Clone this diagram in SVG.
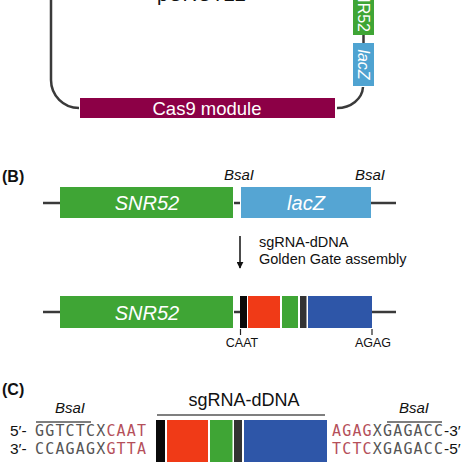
<svg xmlns="http://www.w3.org/2000/svg" width="474" height="474" viewBox="0 0 474 474">
<style>
.ln{stroke:#3a3a3a;stroke-width:2.5;fill:none}
.sans{font-family:"Liberation Sans",Arial,sans-serif}
.wt{fill:#fff}
.it{font-style:italic}
.seq{font-family:"DejaVu Sans Mono","Liberation Mono",monospace;font-size:15px}
.gr{fill:#555}
.rd{fill:#b5505a}
.bk{fill:#111}
</style>
<defs>
<marker id="ah" viewBox="0 0 10 10" refX="9" refY="5" markerWidth="7" markerHeight="7" orient="auto" markerUnits="userSpaceOnUse">
<path d="M0,0 L10,5 L0,10 z" fill="#111"/>
</marker>
</defs>
<rect width="474" height="474" fill="#fff"/>

<!-- (A) plasmid -->
<g id="connectors">
<path class="ln" d="M51,0 V80 A28,28 0 0 0 79,108"/>
<path class="ln" d="M337,108 A26,22 0 0 0 363,87"/>
<line class="ln" x1="363.5" y1="35" x2="363.5" y2="43"/>
<line class="ln" x1="43" y1="203" x2="60" y2="203"/>
<line class="ln" x1="234" y1="203" x2="240" y2="203"/>
<line class="ln" x1="371" y1="203" x2="396" y2="203"/>
<line x1="240" y1="236" x2="240" y2="268" stroke="#111" stroke-width="1.5" marker-end="url(#ah)"/>
<line class="ln" x1="43" y1="312" x2="60" y2="312"/>
<line class="ln" x1="234" y1="312" x2="240" y2="312"/>
<line class="ln" x1="372" y1="312" x2="396" y2="312"/>
<line x1="240.5" y1="329" x2="240.5" y2="335" stroke="#222" stroke-width="1.2"/>
<line x1="372" y1="329" x2="372" y2="335" stroke="#222" stroke-width="1.2"/>
<line x1="36" y1="422" x2="91" y2="422" stroke="#555" stroke-width="1.5"/>
<line x1="157" y1="415" x2="325" y2="415" stroke="#555" stroke-width="1.5"/>
<line x1="387" y1="422" x2="442" y2="422" stroke="#555" stroke-width="1.5"/>
</g>

<g id="title-a">
<text x="157" y="1" class="sans" font-size="20" fill="#111">pCRCT22</text>
</g>

<g id="a-snr52">
<rect x="353" y="-5" width="21" height="40" fill="#3fa535"/>
<text class="sans wt" font-size="16" transform="translate(357.5,32) rotate(90)" text-anchor="end">SNR52</text>
</g>
<g id="a-lacz">
<rect x="353" y="43" width="21" height="43" fill="#4fa3d1"/>
<text class="sans wt it" font-size="16" transform="translate(357.5,64.5) rotate(90)" text-anchor="middle">lacZ</text>
</g>
<g id="a-cas9">
<rect x="80" y="98" width="255" height="20" fill="#8c0046"/>
<text x="207" y="114.5" class="sans wt" font-size="18.5" text-anchor="middle">Cas9 module</text>
</g>

<!-- (B) -->
<g id="label-b"><text x="2" y="182" class="sans" font-size="16" font-weight="bold" fill="#111">(B)</text></g>
<g id="b-bsai1"><text x="224" y="180" class="sans it" font-size="15" fill="#111">BsaI</text></g>
<g id="b-bsai2"><text x="355" y="180" class="sans it" font-size="15" fill="#111">BsaI</text></g>
<g id="b-snr52">
<rect x="60" y="187" width="173" height="31" fill="#3fa535"/>
<text x="147" y="210" class="sans wt it" font-size="20" text-anchor="middle">SNR52</text>
</g>
<g id="b-lacz">
<rect x="241" y="187" width="130" height="31" fill="#55a5d3"/>
<text x="306" y="210" class="sans wt it" font-size="20" text-anchor="middle">lacZ</text>
</g>
<g id="b-arrow-label">
<text x="259" y="247" class="sans" font-size="14.5" fill="#111">sgRNA-dDNA</text>
<text x="259" y="264" class="sans" font-size="14.5" fill="#111">Golden Gate assembly</text>
</g>

<g id="b2-snr52">
<rect x="60" y="296" width="173" height="32" fill="#3fa535"/>
<text x="147" y="320" class="sans wt it" font-size="20" text-anchor="middle">SNR52</text>
</g>
<g id="b2-insert">
<rect x="240" y="296" width="7" height="32" fill="#0a0a0a"/>
<rect x="248" y="296" width="32" height="32" fill="#f03a17"/>
<rect x="282" y="296" width="16" height="32" fill="#3fa535"/>
<rect x="300" y="296" width="6.5" height="32" fill="#333"/>
<rect x="308" y="296" width="64" height="32" fill="#2e56a8"/>
</g>
<g id="b2-caat"><text x="242" y="347" class="sans" font-size="12.5" text-anchor="middle" fill="#111">CAAT</text></g>
<g id="b2-agag"><text x="373" y="347" class="sans" font-size="12.5" text-anchor="middle" fill="#111">AGAG</text></g>

<!-- (C) -->
<g id="label-c"><text x="2" y="395" class="sans" font-size="16" font-weight="bold" fill="#111">(C)</text></g>
<g id="c-bsai-left"><text x="55" y="413" class="sans it" font-size="15" fill="#111">BsaI</text></g>
<g id="c-bsai-right"><text x="399" y="413" class="sans it" font-size="15" fill="#111">BsaI</text></g>
<g id="c-title"><text x="244" y="406" class="sans" font-size="18" text-anchor="middle" fill="#111">sgRNA-dDNA</text></g>

<g id="c-left-seq">
<text x="10" y="436" class="sans bk" font-size="15.5">5′-</text>
<text class="seq gr" y="436" x="35 45.2 55.4 65.6 75.8 86 96.2">GGTCTCX</text>
<text class="seq rd" y="436" x="106.4 116.6 126.8 137">CAAT</text>
<text x="10" y="454" class="sans bk" font-size="15.5">3′-</text>
<text class="seq gr" y="454" x="35 45.2 55.4 65.6 75.8 86 96.2">CCAGAGX</text>
<text class="seq rd" y="454" x="106.4 116.6 126.8 137">GTTA</text>
</g>

<g id="c-blocks">
<rect x="156" y="420" width="9" height="42" fill="#0a0a0a"/>
<rect x="167" y="420" width="41" height="42" fill="#f03a17"/>
<rect x="210" y="420" width="22.5" height="42" fill="#3fa535"/>
<rect x="234" y="420" width="8" height="42" fill="#333"/>
<rect x="244" y="420" width="83" height="42" fill="#2e56a8"/>
</g>

<g id="c-right-seq">
<text class="seq rd" y="436" x="332 342.2 352.4 362.6">AGAG</text>
<text class="seq gr" y="436" x="372.8 383 393.2 403.4 413.6 423.8 434">XGAGACC</text>
<text x="444" y="436" class="sans bk" font-size="15.5">-3′</text>
<text class="seq rd" y="454" x="332 342.2 352.4 362.6">TCTC</text>
<text class="seq gr" y="454" x="372.8 383 393.2 403.4 413.6 423.8 434">XGAGACC</text>
<text x="444" y="454" class="sans bk" font-size="15.5">-5′</text>
</g>
</svg>
